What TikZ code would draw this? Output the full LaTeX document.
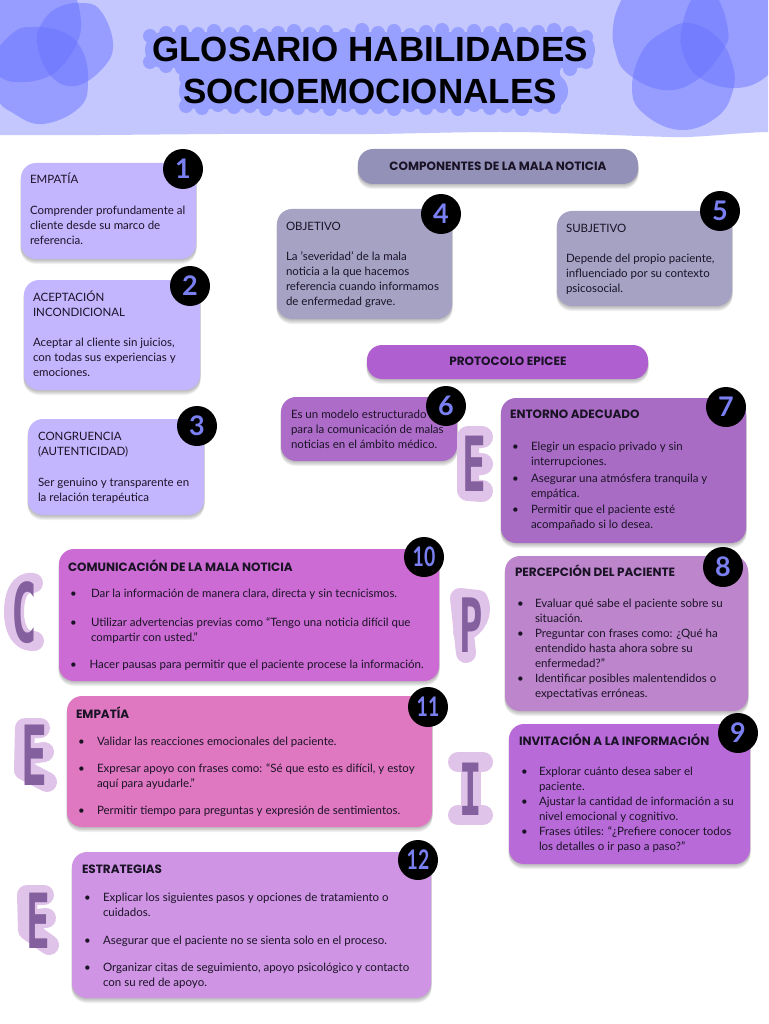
\documentclass[tikz,border=0pt]{standalone}
\usepackage{fontspec}
\setmainfont{Lato}
\newfontfamily\titlefont{Liberation Sans}
\newfontfamily\headfont{Poppins}
\newfontfamily\handfont{DejaVu Sans Mono}
\definecolor{headbg}{HTML}{C3C7FD}
\definecolor{blob}{HTML}{6A74FF}
\definecolor{halo}{HTML}{979FFF}
\definecolor{lila}{HTML}{C4B5FF}
\definecolor{gris}{HTML}{A5A2C4}
\definecolor{grispill}{HTML}{9391B8}
\definecolor{purpill}{HTML}{B05FD0}
\definecolor{cardsix}{HTML}{AD6CC8}
\definecolor{cardsev}{HTML}{A96CC4}
\definecolor{cardeig}{HTML}{BD85CB}
\definecolor{cardnin}{HTML}{B86BD8}
\definecolor{cardten}{HTML}{CB6BD3}
\definecolor{cardele}{HTML}{DF78C1}
\definecolor{cardtwe}{HTML}{CF94E4}
\definecolor{digit}{HTML}{7A80F2}
\definecolor{letter}{HTML}{85609F}
\definecolor{lhalo}{HTML}{DFC3E8}
\definecolor{ink}{HTML}{1A1326}
\tikzset{
  cardbox/.style={rounded corners=#1,inner sep=0pt,outer sep=0pt},
  cardbox/.default=15pt,
  body/.style={inner sep=0pt,outer sep=0pt,anchor=north west,align=left,text=ink,font=\fontsize{11.5}{15}\selectfont},
  head/.style={body,font=\headfont\fontsize{12}{15}\selectfont\bfseries},
  pilltext/.style={inner sep=0pt,text=ink,font=\headfont\fontsize{12}{15}\selectfont\bfseries},
  numdisc/.style={circle,fill=black,minimum size=40pt,inner sep=0pt,text=digit,font=\fontsize{27}{27}\selectfont\bfseries},
  numdisctwo/.style={numdisc,font=\fontsize{27}{27}\selectfont\bfseries},
  bigletter/.style={inner sep=0pt,text=letter,font=\handfont\fontsize{#1}{#1}\selectfont\bfseries,xscale=.52},
  haloline/.style={draw=lhalo,line width=20pt,line cap=round,line join=round},
  blobfill/.style={fill=blob,opacity=.5},
  titletext/.style={inner sep=0pt,text=black,font=\titlefont\fontsize{35}{36}\selectfont\bfseries}
}
% name, x1,y1,x2,y2, colour, radius
\newcommand{\card}[7]{%
  \foreach \s in {1,2,3,4,5}{\fill[black,opacity=.055,rounded corners=#7pt] (#2-.5,#3+\s) rectangle (#4+.5,#5+\s);}%
  \pgfmathsetmacro{\cardw}{#4-#2}\pgfmathsetmacro{\cardh}{#5-#3}%
  \node[cardbox=#7pt,fill=#6,minimum width=\cardw pt,minimum height=\cardh pt] (#1) at ({(#2+#4)/2},{(#3+#5)/2}) {};}
% name, x, y centre of first line, text
\newcommand{\para}[4]{\node[body] (#1) at (#2,#3-5.8) {\strut #4};}
\newcommand{\headl}[4]{\node[head] (#1) at (#2,#3-6.5) {\strut #4};}
% name, bullet x, text x, y, text
\newcommand{\bull}[5]{\node[body] (#1b) at (#2-2,#4-5.8) {\strut •};\node[body] (#1) at (#3,#4-5.8) {\strut #5};}
\begin{document}
\begin{tikzpicture}[x=1pt,y=-1pt]
\useasboundingbox (0,0) rectangle (768,1024);
\fill[white] (0,0) rectangle (768,1024);
% header
\fill[headbg] (0,0) -- (768,0) -- (768,132) .. controls (730,133) and (700,138) .. (670,137)
  .. controls (600,135) and (560,132) .. (500,132) .. controls (440,132) and (380,135) .. (320,134)
  .. controls (220,133) and (100,136) .. (0,135) -- cycle;
\begin{scope}
\clip (0,0) rectangle (768,138);
\fill[blobfill] plot[smooth cycle,tension=.7] coordinates {(76,-3) (81,23) (77,43) (63,65) (47,77) (23,82) (0,77) (-30,50) (-30,-10) (30,-20) (68,-14)};
\fill[blobfill] plot[smooth cycle,tension=.7] coordinates {(80,3) (100,10) (113,43) (103,68) (75,86) (50,75) (37,43) (42,23) (57,8)};
\fill[blobfill] plot[smooth cycle,tension=.7] coordinates {(33,27) (63,32) (82,50) (88,80) (80,107) (43,124) (13,113) (-3,97) (-7,60) (13,33)};
\fill[blobfill] plot[smooth cycle,tension=.7] coordinates {(613,27) (615,50) (627,73) (663,90) (697,80) (723,50) (728,30) (717,-3) (700,-13) (633,-13) (620,3)};
\fill[blobfill] plot[smooth cycle,tension=.7] coordinates {(693,-3) (682,27) (683,53) (700,78) (737,88) (768,75) (780,50) (780,0) (750,-13) (710,-13)};
\fill[blobfill] plot[smooth cycle,tension=.7] coordinates {(690,23) (717,37) (732,63) (733,90) (717,117) (680,130) (643,113) (632,87) (643,50) (667,30)};
\end{scope}
% title halo
\draw[halo,line width=36pt,line cap=round] (163,50) -- (577,50);
\draw[halo,line width=36pt,line cap=round] (197,91) -- (550,91);
\draw[halo,line width=14pt] (186,70) -- (560,70);
\foreach \x/\a/\b in {150/36/62,166/33/66,182/32/68,198/34/69,214/31/67,230/34/68,246/32/69,262/35/66,278/33/68,294/31/70,310/34/66,326/32/69,345/35/67,362/30/68,378/33/70,394/31/66,410/35/69,426/32/67,442/30/70,458/34/66,474/31/69,490/33/70,506/30/66,522/34/68,538/32/70,554/30/67,570/33/69,586/37/62}
  {\fill[halo] (\x,\a) circle (7);\fill[halo] (\x,\b) circle (7);}
\foreach \x/\a/\b in {186/78/106,202/75/108,218/77/105,234/74/107,250/78/106,266/75/109,282/77/105,298/74/108,314/78/106,330/76/109,346/75/105,362/78/108,378/74/107,394/77/109,410/75/105,426/78/108,442/74/106,458/77/109,474/75/105,490/78/108,506/74/106,522/77/109,538/75/105,554/78/107}
  {\fill[halo] (\x,\a) circle (7);\fill[halo] (\x,\b) circle (7);}
\node[titletext] (title1) at (370,49) {GLOSARIO HABILIDADES};
\node[titletext] (title2) at (370,91) {SOCIOEMOCIONALES};
% left column
\card{c1}{21}{163}{196}{259}{lila}{15}
\card{c2}{24}{280}{200}{390}{lila}{15}
\card{c3}{28}{419}{204}{515}{lila}{15}
\para{t1a}{30}{179}{EMPATÍA}
\para{t1b}{30}{210}{Comprender profundamente al\\cliente desde su marco de\\referencia.}
\para{t2a}{33}{297}{ACEPTACIÓN\\INCONDICIONAL}
\para{t2b}{33}{342}{Aceptar al cliente sin juicios,\\con todas sus experiencias y\\emociones.}
\para{t3a}{38}{436}{CONGRUENCIA\\(AUTENTICIDAD)}
\para{t3b}{38}{482}{Ser genuino y transparente en\\la relación terapéutica}
% components
\card{pc}{358}{149}{638}{184}{grispill}{15}
\node[pilltext] (pct) at (498,166) {COMPONENTES DE LA MALA NOTICIA};
\card{c4}{277}{209}{452}{319}{gris}{15}
\card{c5}{557}{211}{732}{306}{gris}{15}
\para{t4a}{286}{226}{OBJETIVO}
\para{t4b}{286}{256}{La 'severidad' de la mala\\noticia a la que hacemos\\referencia cuando informamos\\de enfermedad grave.}
\para{t5a}{566}{228}{SUBJETIVO}
\para{t5b}{566}{258}{Depende del propio paciente,\\influenciado por su contexto\\psicosocial.}
% protocol
\card{pp}{367}{345}{648}{379}{purpill}{15}
\node[pilltext] (ppt) at (508,361) {PROTOCOLO EPICEE};
\card{c6}{281}{397}{457}{461}{cardsix}{15}
\para{t6}{291}{413.5}{Es un modelo estructurado\\para la comunicación de malas\\noticias en el ámbito médico.}
\card{c7}{501}{398}{746}{543}{cardsev}{15}
\headl{t7}{510}{414}{ENTORNO ADECUADO}
\bull{t7a}{514}{531}{446}{Elegir un espacio privado y sin\\interrupciones.}
\bull{t7b}{514}{531}{478}{Asegurar una atmósfera tranquila y\\empática.}
\bull{t7c}{514}{531}{509}{Permitir que el paciente esté\\acompañado si lo desea.}
\card{c8}{505}{556}{748}{711}{cardeig}{15}
\headl{t8}{515}{571}{PERCEPCIÓN DEL PACIENTE}
\bull{t8a}{519}{535}{603}{Evaluar qué sabe el paciente sobre su\\situación.}
\bull{t8b}{519}{535}{633}{Preguntar con frases como: ¿Qué ha\\entendido hasta ahora sobre su\\enfermedad?”}
\bull{t8c}{519}{535}{678}{Identificar posibles malentendidos o\\expectativas erróneas.}
\card{c9}{509}{724}{750}{864}{cardnin}{15}
\headl{t9}{519}{740}{INVITACIÓN A LA INFORMACIÓN}
\bull{t9a}{523}{539}{771}{Explorar cuánto desea saber el\\paciente.}
\bull{t9b}{523}{539}{801}{Ajustar la cantidad de información a su\\nivel emocional y cognitivo.}
\bull{t9c}{523}{539}{831}{Frases útiles: “¿Prefiere conocer todos\\los detalles o ir paso a paso?”}
\card{c10}{59}{549}{439}{681}{cardten}{15}
\headl{t10}{68}{566}{COMUNICACIÓN DE LA MALA NOTICIA}
\bull{t10a}{72}{91}{593}{Dar la información de manera clara, directa y sin tecnicismos.}
\bull{t10b}{72}{91}{622}{Utilizar advertencias previas como “Tengo una noticia difícil que\\compartir con usted.”}
\bull{t10c}{72}{89.5}{664}{Hacer pausas para permitir que el paciente procese la información.}
\card{c11}{67}{696}{432}{827}{cardele}{15}
\headl{t11}{76}{713}{EMPATÍA}
\bull{t11a}{80}{97}{741}{Validar las reacciones emocionales del paciente.}
\bull{t11b}{80}{97}{768}{Expresar apoyo con frases como: “Sé que esto es difícil, y estoy\\aquí para ayudarle.”}
\bull{t11c}{80}{97}{810}{Permitir tiempo para preguntas y expresión de sentimientos.}
\card{c12}{72}{852}{431}{998}{cardtwe}{15}
\headl{t12}{82}{869}{ESTRATEGIAS}
\bull{t12a}{86}{103}{897}{Explicar los siguientes pasos y opciones de tratamiento o\\cuidados.}
\bull{t12b}{86}{103}{940}{Asegurar que el paciente no se sienta solo en el proceso.}
\bull{t12c}{86}{103}{967}{Organizar citas de seguimiento, apoyo psicológico y contacto\\con su red de apoyo.}
% number discs
\node[numdisc] (n1) at (183,169) {1};
\node[numdisc] (n2) at (190,286) {2};
\node[numdisc] (n3) at (197,426) {3};
\node[numdisc] (n4) at (441,214) {4};
\node[numdisc] (n5) at (720,211) {5};
\node[numdisc] (n6) at (446,406) {6};
\node[numdisc] (n7) at (726,407) {7};
\node[numdisc] (n8) at (723,567) {8};
\node[numdisc] (n9) at (738,733) {9};
\node[numdisctwo,text width=0pt,align=center] (n10) at (424,557) {\makebox[0pt]{\scalebox{.72}[1]{10}}};
\node[numdisctwo,text width=0pt,align=center] (n11) at (428,707) {\makebox[0pt]{\scalebox{.72}[1]{11}}};
\node[numdisctwo,text width=0pt,align=center] (n12) at (418,860) {\makebox[0pt]{\scalebox{.72}[1]{12}}};
% side letters
\draw[haloline,line width=22pt] (482,437) -- (468,437) -- (468,490) -- (482,491) (468,464) -- (482,464);
\node[bigletter=76] (le1) at (474,464) {E};
\draw[haloline] (33,583) .. controls (18,581) and (14,598) .. (14,612) .. controls (14,628) and (20,642) .. (34,641);
\node[bigletter=82] (lc) at (24,613) {C};
\draw[haloline] (466,653) -- (460,598) -- (478,600) .. controls (484,612) and (476,628) .. (463,632);
\node[bigletter=75] (lp) at (471,625) {P};
\draw[haloline] (40,728) -- (25,728) -- (24,770) -- (47,782) (25,755) -- (44,752);
\node[bigletter=83] (le2) at (34,755) {E};
\draw[haloline] (458,762) -- (483,762) (471,762) -- (471,815) (458,815) -- (483,815);
\node[bigletter=72] (li) at (471,789) {I};
\draw[haloline] (44,895) -- (27,895) -- (28,930) -- (49,945) (28,920) -- (46,918);
\node[bigletter=76] (le3) at (38,921) {E};
\end{tikzpicture}
\end{document}
